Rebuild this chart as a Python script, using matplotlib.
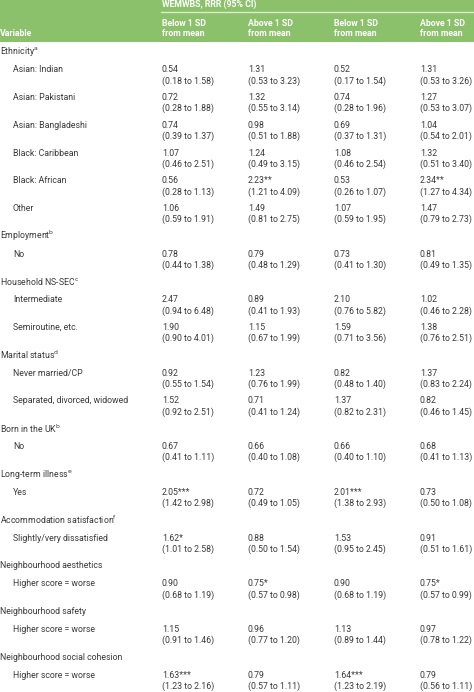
import matplotlib.pyplot as plt

# Table content
sections = [
    ("Ethnicity", "a", ["Asian: Indian", "Asian: Pakistani", "Asian: Bangladeshi",
                        "Black: Caribbean", "Black: African", "Other"]),
    ("Employment", "b", ["No"]),
    ("Household NS-SEC", "c", ["Intermediate", "Semiroutine, etc."]),
    ("Marital status", "d", ["Never married/CP", "Separated, divorced, widowed"]),
    ("Born in the UK", "b", ["No"]),
    ("Long-term illness", "e", ["Yes"]),
    ("Accommodation satisfaction", "f", ["Slightly/very dissatisfied"]),
    ("Neighbourhood aesthetics", "", ["Higher score = worse"]),
    ("Neighbourhood safety", "", ["Higher score = worse"]),
    ("Neighbourhood social cohesion", "", ["Higher score = worse"]),
]

col_headers = ["Below 1 SD\nfrom mean", "Above 1 SD\nfrom mean",
               "Below 1 SD\nfrom mean", "Above 1 SD\nfrom mean"]

below1 = ["0.54", "0.72", "0.74", "1.07", "0.56", "1.06", "0.78", "2.47", "1.90",
          "0.92", "1.52", "0.67", "2.05***", "1.62*", "0.90", "1.15", "1.63***"]
below1_ci = ["0.18 to 1.58", "0.28 to 1.88", "0.39 to 1.37", "0.46 to 2.51", "0.28 to 1.13",
             "0.59 to 1.91", "0.44 to 1.38", "0.94 to 6.48", "0.90 to 4.01", "0.55 to 1.54",
             "0.92 to 2.51", "0.41 to 1.11", "1.42 to 2.98", "1.01 to 2.58", "0.68 to 1.19",
             "0.91 to 1.46", "1.23 to 2.16"]
above1 = ["1.31", "1.32", "0.98", "1.24", "2.23**", "1.49", "0.79", "0.89", "1.15",
          "1.23", "0.71", "0.66", "0.72", "0.88", "0.75*", "0.96", "0.79"]
above1_ci = ["0.53 to 3.23", "0.55 to 3.14", "0.51 to 1.88", "0.49 to 3.15", "1.21 to 4.09",
             "0.81 to 2.75", "0.48 to 1.29", "0.41 to 1.93", "0.67 to 1.99", "0.76 to 1.99",
             "0.41 to 1.24", "0.40 to 1.08", "0.49 to 1.05", "0.50 to 1.54", "0.57 to 0.98",
             "0.77 to 1.20", "0.57 to 1.11"]
below2 = ["0.52", "0.74", "0.69", "1.08", "0.53", "1.07", "0.73", "2.10", "1.59",
          "0.82", "1.37", "0.66", "2.01***", "1.53", "0.90", "1.13", "1.64***"]
below2_ci = ["0.17 to 1.54", "0.28 to 1.96", "0.37 to 1.31", "0.46 to 2.54", "0.26 to 1.07",
             "0.59 to 1.95", "0.41 to 1.30", "0.76 to 5.82", "0.71 to 3.56", "0.48 to 1.40",
             "0.82 to 2.31", "0.40 to 1.10", "1.38 to 2.93", "0.95 to 2.45", "0.68 to 1.19",
             "0.89 to 1.44", "1.23 to 2.19"]
above2 = ["1.31", "1.27", "1.04", "1.32", "2.34**", "1.47", "0.81", "1.02", "1.38",
          "1.37", "0.82", "0.68", "0.73", "0.91", "0.75*", "0.97", "0.79"]
above2_ci = ["0.53 to 3.26", "0.53 to 3.07", "0.54 to 2.01", "0.51 to 3.40", "1.27 to 4.34",
             "0.79 to 2.73", "0.49 to 1.35", "0.46 to 2.28", "0.76 to 2.51", "0.83 to 2.24",
             "0.46 to 1.45", "0.41 to 1.13", "0.50 to 1.08", "0.51 to 1.61", "0.57 to 0.99",
             "0.78 to 1.22", "0.56 to 1.11"]

W, H = 474, 692
GREEN = "#8cc16c"
TEXT = "#3a3a3a"
FS = 6.3
plt.rcParams['font.family'] = ['Roboto', 'DejaVu Sans']

fig = plt.figure(figsize=(W / 100, H / 100), dpi=100)
ax = fig.add_axes([0, 0, 1, 1])
ax.set_xlim(0, W)
ax.set_ylim(H, 0)
ax.axis("off")

# Header band
ax.add_patch(plt.Rectangle((0, 0), W, 42, color=GREEN, lw=0))
ax.plot([161, W], [12, 12], color="#d8ecc9", lw=1)
ax.text(162, 4.5, "WEMWBS, RRR (95% CI)", color="white", fontsize=FS, weight="bold", va="center")
ax.text(0, 34, "Variable", color="white", fontsize=FS, weight="bold", va="center")
col_x = [162, 248, 334, 420]
for x, lab in zip(col_x, col_headers):
    ax.text(x, 28.5, lab, color="white", fontsize=FS, weight="bold", va="center",
            linespacing=1.2)

columns = [(below1, below1_ci), (above1, above1_ci), (below2, below2_ci), (above2, above2_ci)]

y = 52
i = 0
for name, sup, rows in sections:
    label = name + (r"$^{\mathrm{%s}}$" % sup if sup else "")
    ax.text(0, y, label, color=TEXT, fontsize=FS, va="center")
    y += 18
    for r in rows:
        ax.text(13, y, r, color=TEXT, fontsize=FS, va="center")
        for x, (vals, cis) in zip(col_x, columns):
            ax.text(x, y, vals[i], color=TEXT, fontsize=FS, va="center")
            ax.text(x, y + 11, "(" + cis[i] + ")", color=TEXT, fontsize=FS, va="center")
        i += 1
        y += 27.7

fig.savefig("out.png", dpi=100, facecolor="white")
